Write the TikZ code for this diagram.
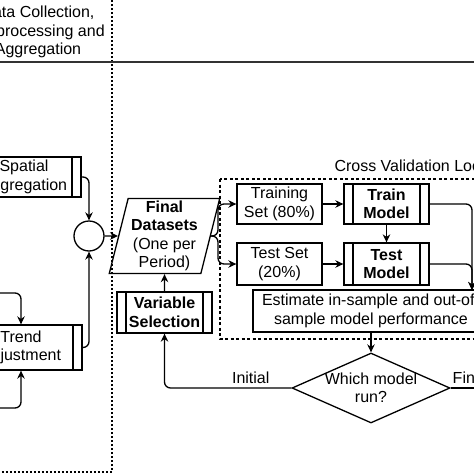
\documentclass[tikz,border=0pt]{standalone}
\usepackage{fontspec}
\setmainfont{Liberation Sans}
\usetikzlibrary{arrows.meta,shapes.geometric}
\tikzset{
	every node/.style={font=\fontsize{16}{18.5}\selectfont},
	box/.style={draw, line width=1.3pt, align=center, inner sep=0pt},
	subproc/.style={box, path picture={\draw[line width=1.3pt] ([xshift=9pt]path picture bounding box.north west) -- ([xshift=9pt]path picture bounding box.south west) ([xshift=-9pt]path picture bounding box.north east) -- ([xshift=-9pt]path picture bounding box.south east);}},
	arr/.style={line width=1.3pt, rounded corners=6pt, -{Stealth[length=8pt,width=7.5pt]}},
	lane/.style={line width=1.1pt, dash pattern=on 2pt off 2pt},
	loopbox/.style={line width=1.1pt, dash pattern=on 3pt off 2.5pt},
}

\begin{document}
\begin{tikzpicture}[x=1pt, y=-1pt]
			%%%%% START %%%%%
			\useasboundingbox (0,0) rectangle (474,474);
			\clip (0,0) rectangle (474,474);
			
			% lane
			\draw[lane] (-36,-10) rectangle (112,472);
			\draw[line width=1.5pt, black!80] (-40,62) -- (500,62);
			\node[align=center] (lanetitle) at (38,32) {Data Collection,\\Preprocessing and\\Aggregation};
			
			\node[subproc, minimum width=114pt, minimum height=40pt] (spatial) at (24,177) {Spatial\\Aggregation};
			\node[subproc, minimum width=122pt, minimum height=45pt] (trend) at (21,347.5) {Trend\\Adjustment};
			\node[draw, circle, line width=1.3pt, minimum size=30pt, inner sep=0pt] (junction) at (89,236) {};
			\coordinate (trendinA) at (-20,293);
			\coordinate (trendinB) at (-20,408);
			
			\node[box, trapezium, trapezium left angle=75, trapezium right angle=105, trapezium stretches=true, minimum width=104pt, minimum height=75pt, inner xsep=3pt] (final) at (164.5,236) {\textbf{Final}\\\textbf{Datasets}\\(One per\\Period)};
			\node[subproc, minimum width=95pt, minimum height=41pt] (varsel) at (164.5,312.5) {\textbf{Variable}\\\textbf{Selection}};
			
			% loop
			\draw[loopbox] (220,179) rectangle (520,339);
			\node[anchor=west] (looptitle) at (331,167) {Cross Validation Loop};
			\node[box, minimum width=85pt, minimum height=40pt] (trainset) at (279.5,204) {Training\\Set (80\%)};
			\node[box, minimum width=85pt, minimum height=42pt] (testset) at (279.5,264) {Test Set\\(20\%)};
			\node[subproc, minimum width=85pt, minimum height=40pt] (trainmodel) at (386.5,204) {\textbf{Train}\\\textbf{Model}};
			\node[subproc, minimum width=85pt, minimum height=42pt] (testmodel) at (386.5,264) {\textbf{Test}\\\textbf{Model}};
			\node[box, minimum width=236pt, minimum height=42pt] (estimate) at (371,311) {Estimate in-sample and out-of-\\sample model performance};
			\coordinate (split) at (218,236);
			\coordinate (merge) at (472,290);
			
			\node[box, diamond, minimum width=158pt, minimum height=70pt] (which) at (371,388) {};
			\node[align=center] (whichtext) at (which.center) {Which model\\run?};
			\coordinate (nextlane) at (520,388);
			
			% connectors
			\draw[arr] (spatial.east) -| (junction.north);
			\draw[arr] (trend.east) -| (junction.south);
			\draw[arr] (trendinA) -| (trend.north);
			\draw[arr] (trendinB) -| (trend.south);
			\draw[arr] (junction.east) -- (final.west);
			\draw[arr] (varsel.north) -- (final.south);
			\draw[arr] (final.east) -- (split) |- (trainset.west);
			\draw[arr] (final.east) -- (split) |- (testset.west);
			\draw[arr] (trainset) -- (trainmodel);
			\draw[arr] (testset) -- (testmodel);
			\draw[arr] (trainmodel) -- (testmodel);
			\draw[arr] (trainmodel.east) -| (merge);
			\draw[arr] (testmodel.east) -| (merge);
			\draw[arr] (estimate.south) -- (which.north);
			\draw[arr] (which.west) -| node[pos=0.16, above] {Initial} (varsel.south);
			\draw[arr] (which.east) -- node[pos=0.28, above] {Final} (nextlane);
			
			%%%%% END %%%%%
\end{tikzpicture}
\end{document}
